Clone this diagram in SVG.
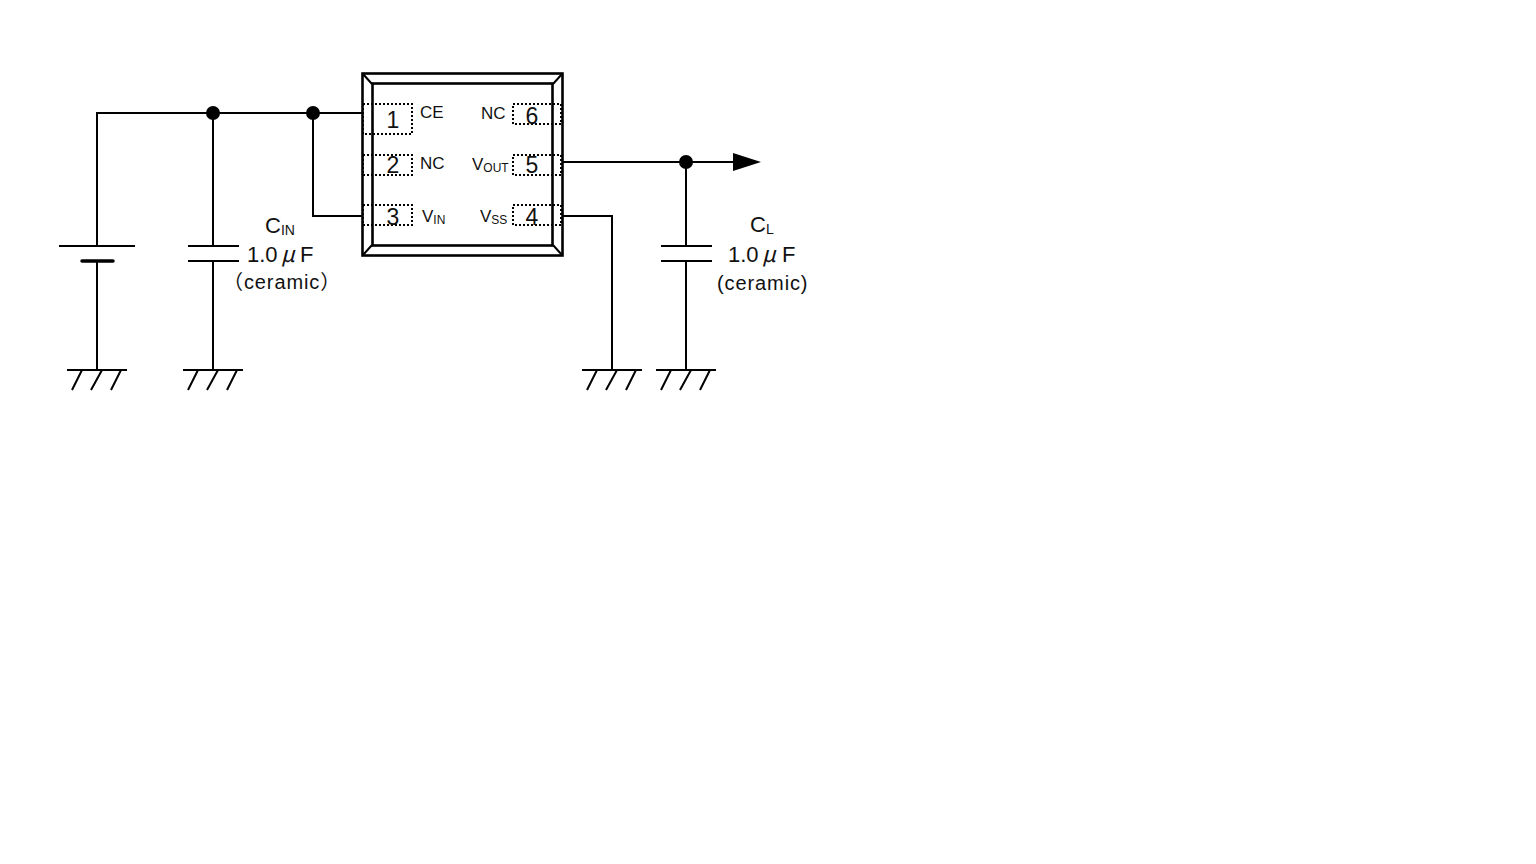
<svg xmlns="http://www.w3.org/2000/svg" width="1536" height="864" viewBox="0 0 1536 864">
<style>
text{font-family:"Liberation Sans","Noto Sans CJK JP",sans-serif;fill:#111}
.w{fill:none;stroke:#000;stroke-width:2}
.pin{fill:none;stroke:#000;stroke-width:2;stroke-dasharray:2 2}
.num{font-size:23px;text-anchor:middle}
.lab{font-size:17px}
.sub{font-size:12px}
.sub2{font-size:14px}
.val{font-size:22px}
.mu{font-family:"Noto Sans CJK JP",sans-serif;font-style:italic}
.cer{font-size:20px;letter-spacing:.9px}
.dot{fill:#000}
</style>
<defs>
<g id="gnd"><path class="w" d="M-30 0H30M-15 0L-25 20M5 0L-6 20M24 0L14 20"/></g>
</defs>
<rect width="1536" height="864" fill="#fff"/>
<g id="connectors">
<path class="w" d="M362 113H97V246M97 261V370"/>
<path class="w" d="M213 113V246M213 261V370"/>
<path class="w" d="M313 113V216H362"/>
<path class="w" d="M563 162H735"/>
<path class="w" d="M686 162V246M686 261V370"/>
<path class="w" d="M563 216H612V370"/>
<polygon class="dot" points="733,153 761,162 733,171"/>
<circle class="dot" cx="213" cy="113" r="7"/>
<circle class="dot" cx="313" cy="113" r="7"/>
<circle class="dot" cx="686" cy="162" r="7"/>
</g>
<g id="battery">
<path class="w" d="M59 246H135"/>
<path d="M82 261H113" fill="none" stroke="#000" stroke-width="3.500" stroke-linecap="round"/>
</g>
<g id="c-in">
<path class="w" d="M188 246H239M188 261H239"/>
<text class="val" x="265" y="233">C<tspan class="sub2" dy="2">IN</tspan></text>
<text class="val" x="247" y="262">1.0<tspan class="mu" x="281">μ</tspan><tspan x="300">F</tspan></text>
<text class="cer" x="223" y="289">（ceramic）</text>
</g>
<g id="c-l">
<path class="w" d="M661 246H712M661 261H712"/>
<text class="val" x="750" y="232">C<tspan class="sub2" dy="2">L</tspan></text>
<text class="val" x="728" y="262">1.0<tspan class="mu" x="762">μ</tspan><tspan x="782">F</tspan></text>
<text class="cer" x="717" y="290">(ceramic)</text>
</g>
<g id="gnd1"><use href="#gnd" x="97" y="370"/></g>
<g id="gnd2"><use href="#gnd" x="213" y="370"/></g>
<g id="gnd3"><use href="#gnd" x="612" y="370"/></g>
<g id="gnd4"><use href="#gnd" x="686" y="370"/></g>
<g id="ic">
<rect x="362.500" y="73.500" width="200" height="182" fill="#fff" stroke="#000" stroke-width="2.600"/>
<rect x="372.500" y="83.500" width="180" height="162" fill="none" stroke="#000" stroke-width="2.600"/>
<path class="w" d="M363 74L372 84M562 74L553 84M363 255L372 245M562 255L553 245"/>
<rect class="pin" x="363" y="104" width="49" height="30"/>
<rect class="pin" x="363" y="155" width="49" height="20"/>
<rect class="pin" x="363" y="205" width="49" height="20"/>
<rect class="pin" x="513" y="104" width="48" height="20"/>
<rect class="pin" x="513" y="155" width="48" height="20"/>
<rect class="pin" x="513" y="205" width="48" height="20"/>
<text class="num" x="393" y="128">1</text>
<text class="num" x="393" y="173">2</text>
<text class="num" x="393" y="225">3</text>
<text class="num" x="532" y="124">6</text>
<text class="num" x="532" y="173">5</text>
<text class="num" x="532" y="225">4</text>
<text class="lab" x="420" y="118">CE</text>
<text class="lab" x="420" y="169">NC</text>
<text class="lab" x="422" y="222">V<tspan class="sub" dy="2">IN</tspan></text>
<text class="lab" x="481" y="119">NC</text>
<text class="lab" x="472" y="170">V<tspan class="sub" dy="2">OUT</tspan></text>
<text class="lab" x="480" y="222">V<tspan class="sub" dy="2">SS</tspan></text>
</g>
</svg>
